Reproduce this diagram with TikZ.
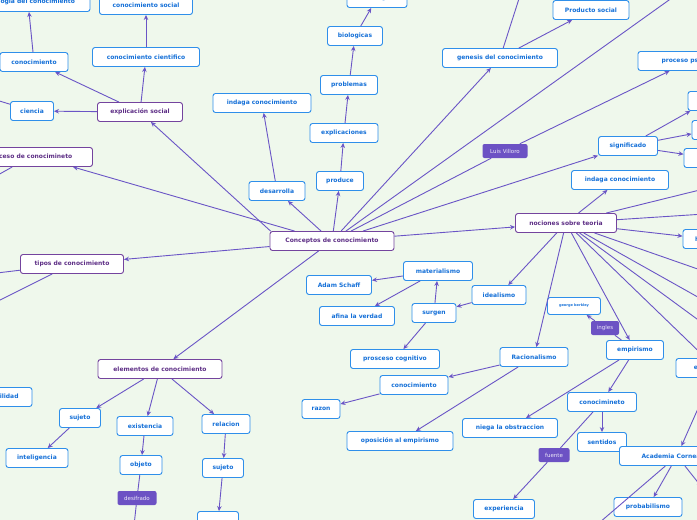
\documentclass[tikz,border=0pt]{standalone}
\usepackage{fontspec}
\setsansfont{DejaVu Sans}
\usetikzlibrary{arrows.meta}
\definecolor{bg}{HTML}{EFF8EC}
\definecolor{bl}{HTML}{2F8FEA}
\definecolor{bltxt}{HTML}{1570D8}
\definecolor{pe}{HTML}{6A55C6}
\definecolor{pb}{HTML}{74449E}
\definecolor{ptxt}{HTML}{5E2F86}
\definecolor{lab}{HTML}{6C52C4}
\tikzset{
 base/.style={rounded corners=2.5pt, line width=0.9pt, font=\sffamily\bfseries\fontsize{6}{7}\selectfont, minimum height=19pt, inner sep=1pt},
 bn/.style={base, draw=bl, fill=white, text=bltxt},
 pn/.style={base, draw=pb, fill=white, text=ptxt},
 lb/.style={rounded corners=2pt, fill=lab, text=white!88!lab, font=\sffamily\fontsize{5.5}{6}\selectfont, minimum height=14pt, inner sep=2pt},
 edge/.style={draw=pe, line width=0.9pt, -{Stealth[length=5pt,width=4.5pt]}},
 ln/.style={draw=pe, line width=0.9pt}
}
\begin{document}
\begin{tikzpicture}[x=1pt,y=-1pt]
\clip (0,0) rectangle (697,520);
\fill[bg] (0,0) rectangle (697,520);
% off-canvas coordinates
\coordinate (o1) at (525,-20);
\coordinate (o2) at (690,-15);
\coordinate (o3) at (720,185);
\coordinate (o4) at (720,213);
\coordinate (o5) at (712,274);
\coordinate (o6) at (712,305);
\coordinate (o7) at (712,330);
\coordinate (o8) at (-20,95);
\coordinate (o9) at (-20,185);
\coordinate (o10) at (-20,275);
\coordinate (o11) at (-20,310);
\coordinate (o12) at (133,535);
\coordinate (o13) at (585,535);
% purple nodes
\node[pn,minimum width=124pt] (c) at (332,241) {Conceptos de conocimiento};
\node[pn,minimum width=85pt] (es) at (140,112) {explicación social};
\node[pn,minimum width=125pt] (pc) at (30,157) {proceso de conocimineto};
\node[pn,minimum width=103pt] (tc) at (72,264) {tipos de conocimiento};
\node[pn,minimum width=124pt] (ec) at (160,369) {elementos de conocimiento};
\node[pn,minimum width=101pt] (nt) at (566,223) {nociones sobre teoria};
% blue nodes
\node[bn,minimum width=124pt] (sc) at (28,2) {sociologia del conocimiento};
\node[bn,minimum width=93pt] (cs) at (146,5) {conocimiento social};
\node[bn,minimum width=68pt] (co) at (34,62) {conocimiento};
\node[bn,minimum width=107pt] (cc) at (146,57) {conocimiento cientifico};
\node[bn,minimum width=43pt] (ci) at (32,111) {ciencia};
\node[bn,minimum width=98pt] (ic1) at (262,103) {indaga conocimiento};
\node[bn,minimum width=56pt] (de) at (277,191) {desarrolla};
\node[bn,minimum width=47pt] (pr) at (340,181) {produce};
\node[bn,minimum width=68pt] (ex) at (344,133) {explicaciones};
\node[bn,minimum width=57pt] (pb) at (349,85) {problemas};
\node[bn,minimum width=55pt] (bi) at (355,36) {biologicas};
\node[bn,minimum width=60pt] (so) at (377,-2) {sociologica};
\node[bn,minimum width=115pt] (ge) at (500,58) {genesis del conocimiento};
\node[bn,minimum width=76pt] (ps) at (591,10) {Producto social};
\node[bn,minimum width=104pt] (pp) at (690,61) {proceso psiquico};
\node[bn,minimum width=59pt] (si) at (628,146) {significado};
\node[bn,minimum width=40pt] (r1) at (708,101) {};
\node[bn,minimum width=40pt] (r2) at (712,130) {};
\node[bn,minimum width=50pt] (r3) at (709,158) {verdad};
\node[bn,minimum width=97pt] (ic2) at (620,180) {indaga conocimiento};
\node[lb,minimum width=45pt] (lv) at (505,151) {Luis Villoro};
\node[bn,minimum width=50pt] (hi) at (708,239) {historia};
\node[bn,minimum width=65pt] (as) at (339,285) {Adam Schaff};
\node[bn,minimum width=69pt] (ma) at (438,271) {materialismo};
\node[bn,minimum width=75pt] (av) at (357,316) {afina la verdad};
\node[bn,minimum width=54pt] (id) at (499,295) {idealismo};
\node[bn,minimum width=44pt] (su) at (434,313) {surgen};
\node[bn,minimum width=89pt] (pco) at (395,359) {prosceso cognitivo};
\node[bn,minimum width=68pt] (ra) at (534,357) {Racionalismo};
\node[bn,minimum width=68pt] (co2) at (414,385) {conocimiento};
\node[bn,minimum width=38pt] (rz) at (321,409) {razon};
\node[bn,minimum width=106pt] (op) at (400,441) {oposición al empirismo};
\node[bn,minimum width=53pt,minimum height=17pt,font=\sffamily\bfseries\fontsize{3.5}{4}\selectfont] (gb) at (574,306) {george berkley};
\node[lb,minimum width=28pt] (in) at (605,328) {ingles};
\node[bn,minimum width=57pt] (em) at (635,350) {empirismo};
\node[bn,minimum width=80pt] (esc) at (716,368) {escepticismo};
\node[bn,minimum width=69pt] (cn) at (602,402) {conocimineto};
\node[bn,minimum width=95pt] (no) at (510,428) {niega la obstraccion};
\node[bn,minimum width=49pt] (se) at (602,442) {sentidos};
\node[lb,minimum width=31pt] (fu) at (554,455) {fuente};
\node[bn,minimum width=115pt] (ac) at (677,456) {Academia Corneades};
\node[bn,minimum width=61pt] (xp) at (504,509) {experiencia};
\node[bn,minimum width=68pt] (pbl) at (648,507) {probabilismo};
\node[lb,minimum width=20pt,minimum height=16pt] (lr) at (708,495) {};
\node[bn,minimum width=64pt] (po) at (0,397) {posibilidad};
\node[bn,minimum width=41pt] (s1) at (80,418) {sujeto};
\node[bn,minimum width=62pt] (it) at (37,458) {inteligencia};
\node[bn,minimum width=56pt] (ei) at (145,426) {existencia};
\node[bn,minimum width=42pt] (ob) at (141,465) {objeto};
\node[lb,minimum width=39pt] (dz) at (137,498) {desifrado};
\node[bn,minimum width=48pt] (re) at (226,424) {relacion};
\node[bn,minimum width=41pt] (s2) at (223,468) {sujeto};
\node[bn,minimum width=41pt] (bt) at (218,521) {};
% edges from Conceptos
\draw[edge] ([xshift=1pt]c.north west) -- (es);
\draw[edge] ([xshift=25pt]c.north west) -- ([xshift=-20pt]pc.south east);
\draw[edge] (c) -- (tc);
\draw[edge] (c) -- (ec);
\draw[edge] (c) -- (de);
\draw[edge] (c) -- (pr);
\draw[edge] (c) -- (ge);
\draw[ln] (c) -- (o2);
\draw[ln] (c) -- (lv);
\draw[edge] (lv) -- (pp);
\draw[edge] (c) -- (si);
\draw[edge] (c) -- (nt);
% left branch
\draw[edge] (es) -- (co);
\draw[edge] (es) -- (cc);
\draw[edge] (es) -- (ci);
\draw[edge] (co) -- (sc);
\draw[edge] (cc) -- (cs);
\draw[ln] (ci) -- (o8);
\draw[ln] (pc) -- (o9);
\draw[ln] (tc) -- (o10);
\draw[ln] (tc) -- (o11);
\draw[edge] (de) -- (ic1);
\draw[edge] (pr) -- (ex);
\draw[edge] (ex) -- (pb);
\draw[edge] (pb) -- (bi);
\draw[edge] (bi) -- (so);
\draw[edge] (ge) -- (o1);
\draw[edge] (ge) -- (ps);
\draw[edge] (si) -- (r1);
\draw[edge] (si) -- (r2);
\draw[edge] (si) -- (r3);
% nociones
\draw[edge] (nt) -- (ic2);
\draw[ln] (nt) -- (o3);
\draw[ln] (nt) -- (o4);
\draw[edge] (nt) -- (hi);
\draw[edge] (nt) -- (o5);
\draw[ln] (nt) -- (o6);
\draw[ln] (nt) -- (o7);
\draw[edge] (nt) -- (esc);
\draw[edge] (nt) -- (em);
\draw[edge] (nt) -- (ra);
\draw[edge] (nt) -- (id);
\draw[edge] (ma) -- (as);
\draw[edge] (ma) -- (av);
\draw[edge] (su) -- (ma);
\draw[edge] (su) -- (pco);
\draw[edge] (id) -- (su);
\draw[edge] (ra) -- (co2);
\draw[edge] (ra) -- (op);
\draw[edge] (co2) -- (rz);
\draw[ln] (em) -- (in);
\draw[edge] (in) -- (gb);
\draw[edge] (em) -- (cn);
\draw[edge] (em) -- (no);
\draw[edge] (cn) -- (se);
\draw[ln] (cn) -- (fu);
\draw[edge] (fu) -- (xp);
\draw[edge] (esc) -- (ac);
\draw[ln] (ac) -- (o13);
\draw[edge] (ac) -- (pbl);
\draw[edge] (ac) -- (lr);
% elementos
\draw[edge] (ec) -- (s1);
\draw[edge] (ec) -- (ei);
\draw[edge] (ec) -- (re);
\draw[edge] (s1) -- (it);
\draw[edge] (ei) -- (ob);
\draw[ln] (ob) -- (dz);
\draw[edge] (dz) -- (o12);
\draw[edge] (re) -- (s2);
\draw[edge] (s2) -- (bt);
\end{tikzpicture}
\end{document}
